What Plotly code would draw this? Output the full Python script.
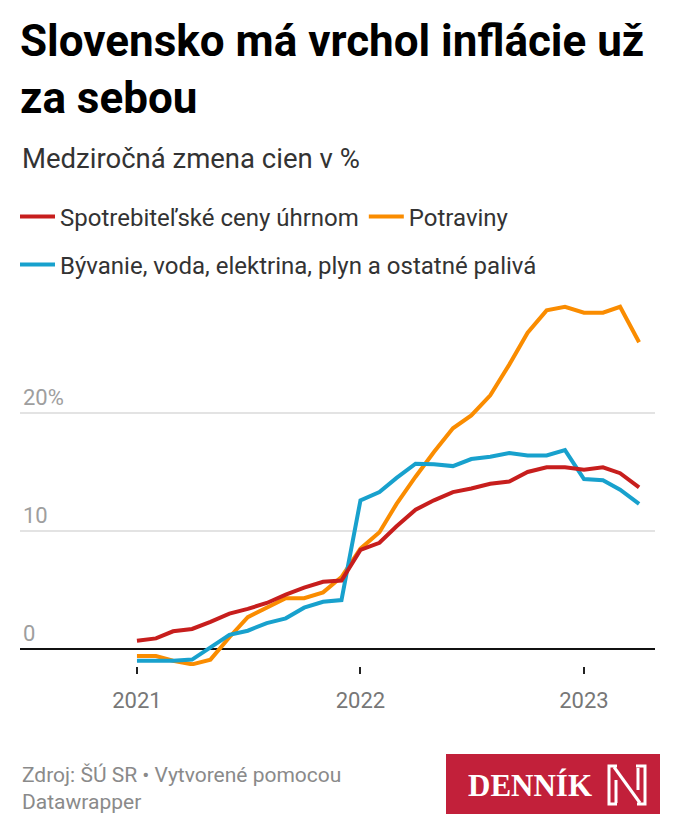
import plotly.graph_objects as go

# ---------------- data ----------------
months = [
    "2021-01-01", "2021-02-01", "2021-03-01", "2021-04-01", "2021-05-01", "2021-06-01",
    "2021-07-01", "2021-08-01", "2021-09-01", "2021-10-01", "2021-11-01", "2021-12-01",
    "2022-01-01", "2022-02-01", "2022-03-01", "2022-04-01", "2022-05-01", "2022-06-01",
    "2022-07-01", "2022-08-01", "2022-09-01", "2022-10-01", "2022-11-01", "2022-12-01",
    "2023-01-01", "2023-02-01", "2023-03-01", "2023-04-01",
]
cpi_total = [0.7, 0.9, 1.5, 1.7, 2.3, 3.0, 3.4, 3.9, 4.6, 5.2, 5.7, 5.8,
             8.4, 9.0, 10.4, 11.8, 12.6, 13.3, 13.6, 14.0, 14.2, 15.0, 15.4, 15.4,
             15.2, 15.4, 14.9, 13.7]
food = [-0.6, -0.6, -1.0, -1.3, -0.9, 1.0, 2.7, 3.5, 4.3, 4.3, 4.8, 6.1,
        8.5, 9.9, 12.3, 14.6, 16.7, 18.7, 19.8, 21.5, 24.1, 26.8, 28.7, 29.0,
        28.5, 28.5, 29.0, 26.0]
housing = [-1.0, -1.0, -1.0, -0.9, 0.1, 1.2, 1.55, 2.2, 2.6, 3.5, 4.0, 4.15,
           12.6, 13.3, 14.5, 15.7, 15.65, 15.5, 16.1, 16.3, 16.6, 16.4, 16.4, 16.85,
           14.4, 14.3, 13.5, 12.3]

series_names = ["Spotrebiteľské ceny úhrnom", "Potraviny",
                "Bývanie, voda, elektrina, plyn a ostatné palivá"]
x_tickvals = ["2021-01-01", "2022-01-01", "2023-01-01"]
x_ticktext = ["2021", "2022", "2023"]
y_tickvals = [0, 10, 20]
y_ticktext = ["0", "10", "20%"]

RED, ORANGE, BLUE = "#c71e1d", "#fa8c00", "#18a1cd"
FONT = "Roboto"

# plot area in pixels
W, H = 680, 840
PL, PR, PT, PB = 20, 655, 300, 666


def px(x):
    return (x - PL) / (PR - PL)


def py(y):
    return (PB - y) / (PB - PT)


fig = go.Figure()
fig.add_trace(go.Scatter(x=months, y=food, name=series_names[1], mode="lines",
                         line=dict(color=ORANGE, width=4), legend="legend",
                         legendrank=2, hoverinfo="skip"))
fig.add_trace(go.Scatter(x=months, y=housing, name=series_names[2], mode="lines",
                         line=dict(color=BLUE, width=4), legend="legend2",
                         legendrank=3, hoverinfo="skip"))
fig.add_trace(go.Scatter(x=months, y=cpi_total, name=series_names[0], mode="lines",
                         line=dict(color=RED, width=4), legend="legend",
                         legendrank=1, hoverinfo="skip"))

legend_common = dict(orientation="h", xanchor="left", yanchor="middle",
                     font=dict(family=FONT, size=24, color="#333333"),
                     bgcolor="rgba(0,0,0,0)", itemwidth=35, traceorder="normal")

fig.update_layout(
    width=W, height=H,
    margin=dict(l=PL, r=W - PR, t=PT, b=H - PB),
    paper_bgcolor="white", plot_bgcolor="white",
    showlegend=True,
    legend=dict(x=px(15), y=py(217), **legend_common),
    legend2=dict(x=px(15), y=py(265), **legend_common),
    title=dict(text="Slovensko má vrchol inflácie už<br>za sebou",
               x=20 / W, xanchor="left", xref="container",
               y=1 - 56 / H, yanchor="top", yref="container",
               font=dict(family=FONT, size=44, weight=700, color="#000000")),
    xaxis=dict(type="date", range=["2020-06-24", "2023-04-27"],
               tickvals=x_tickvals, ticktext=x_ticktext,
               ticks="outside", ticklen=7, tickwidth=2, tickcolor="#222222",
               showgrid=False, showline=False, zeroline=False,
               tickfont=dict(family=FONT, size=22, color="#777777"),
               ticklabelstandoff=8, fixedrange=True),
    yaxis=dict(range=[(649 - PB) / 11.8, (649 - PT) / 11.8],
               tickvals=y_tickvals, ticktext=y_ticktext,
               ticklabelposition="inside top", ticks="",
               showgrid=True, gridcolor="#e3e3e3", gridwidth=1.5,
               zeroline=True, zerolinecolor="#111111", zerolinewidth=2,
               showline=False,
               tickfont=dict(family=FONT, size=22, color="#9e9e9e"),
               fixedrange=True),
)

annotations = [
    dict(text="Medziročná zmena cien v %", x=px(20), y=py(158),
         xref="paper", yref="paper", xanchor="left", yanchor="middle",
         showarrow=False, font=dict(family=FONT, size=27.5, color="#333333")),
    dict(text="Zdroj: ŠÚ SR • Vytvorené pomocou<br>Datawrapper", x=px(20), y=py(788),
         xref="paper", yref="paper", xanchor="left", yanchor="middle", align="left",
         showarrow=False, font=dict(family=FONT, size=21, color="#8a8a8a")),
    dict(text="DENNÍK", x=px(530), y=py(785),
         xref="paper", yref="paper", xanchor="center", yanchor="middle",
         showarrow=False,
         font=dict(family="Liberation Serif, DejaVu Serif, serif", size=31,
                   weight=700, color="white")),
]
fig.update_layout(annotations=annotations)

# Denník N logo (decoration)
shapes = [dict(type="rect", xref="paper", yref="paper",
               x0=px(446), x1=px(660), y0=py(814), y1=py(754),
               fillcolor="#c2203a", line=dict(width=0), layer="above")]


def path(points):
    return "M" + " L".join(f"{px(a):.5f},{py(b):.5f}" for a, b in points)


for pts in [
    [(617, 766), (609, 766), (609, 804), (617, 804)],
    [(636, 766), (645, 766), (645, 804), (637, 804)],
    [(614, 767), (640, 803)],
    [(616, 780), (616, 803)],
    [(638, 768), (638, 790)],
]:
    shapes.append(dict(type="path", xref="paper", yref="paper", path=path(pts),
                       line=dict(color="white", width=3), layer="above"))
fig.update_layout(shapes=shapes)

fig.write_html("out.html")
